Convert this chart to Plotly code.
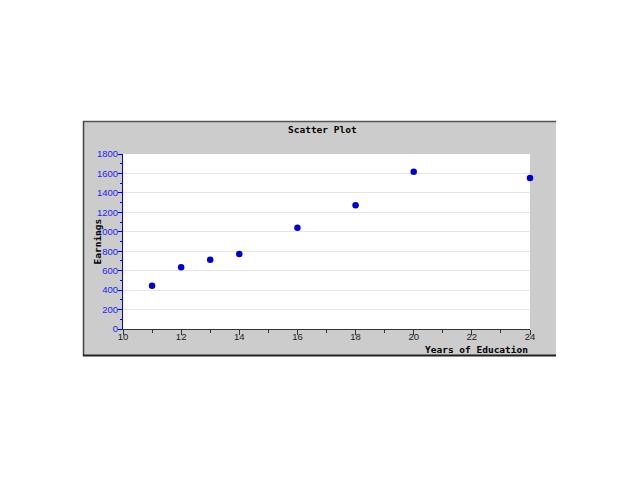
import plotly.graph_objects as go

# data
years = [11, 12, 13, 14, 16, 18, 20, 24]
earnings = [445, 635, 713, 771, 1042, 1273, 1617, 1553]

x_ticks = [10, 12, 14, 16, 18, 20, 22, 24]
y_ticks = [0, 200, 400, 600, 800, 1000, 1200, 1400, 1600, 1800]

# page body has an 8px margin, so the figure sits at (8, 8)
OFF = 8
W, H = 638 - 2 * OFF, 478 - 2 * OFF
# plot area in page pixels
L, R, T, B = 123, 530, 154, 329
pw, ph = R - L, B - T


def px(x):
    return (x - L) / pw


def py(y):
    return (B - y) / ph


mono = "DejaVu Sans Mono"
sans = "Liberation Sans"

fig = go.Figure()
fig.add_trace(go.Scatter(
    x=years, y=earnings, mode="markers",
    marker=dict(color="#0000cc", size=6.5),
    cliponaxis=False, showlegend=False,
))

shapes = [
    dict(type="rect", xref="paper", yref="paper", layer="below",
         x0=px(83), x1=px(556), y0=py(356), y1=py(121),
         fillcolor="#cccccc", line=dict(width=0)),
    dict(type="rect", xref="paper", yref="paper", layer="below",
         x0=0, x1=1, y0=0, y1=1,
         fillcolor="white", line=dict(width=0)),
    dict(type="line", xref="paper", yref="paper", layer="below",
         x0=px(83), x1=px(556), y0=py(121.5), y1=py(121.5),
         line=dict(color="#555555", width=1.5)),
    dict(type="line", xref="paper", yref="paper", layer="below",
         x0=px(83.5), x1=px(83.5), y0=py(356), y1=py(121),
         line=dict(color="#444444", width=1.5)),
    dict(type="line", xref="paper", yref="paper", layer="below",
         x0=px(83), x1=px(556), y0=py(355.5), y1=py(355.5),
         line=dict(color="#222222", width=2)),
]

fig.update_layout(
    width=W, height=H,
    margin=dict(l=L - OFF, r=W - (R - OFF), t=T - OFF, b=H - (B - OFF)),
    paper_bgcolor="white",
    plot_bgcolor="white",
    shapes=shapes,
    annotations=[
        dict(text="<b>Scatter Plot</b>", xref="paper", yref="paper",
             x=px(322), y=py(130), xanchor="center", yanchor="middle",
             showarrow=False, font=dict(family=mono, size=9.5, color="black")),
        dict(text="<b>Years of Education</b>", xref="paper", yref="paper",
             x=px(530), y=py(349), xanchor="right", yanchor="middle",
             showarrow=False, font=dict(family=mono, size=9.5, color="black")),
        dict(text="<b>Earnings</b>", xref="paper", yref="paper",
             x=px(97), y=0.5, xanchor="center", yanchor="middle", textangle=-90,
             showarrow=False, font=dict(family=mono, size=9.5, color="black")),
    ],
    xaxis=dict(
        range=[10, 24], tickvals=x_ticks, showgrid=False, zeroline=False,
        showline=True, linecolor="#333333", linewidth=1,
        ticks="outside", ticklen=5, tickcolor="#333333",
        minor=dict(ticks="outside", ticklen=3, dtick=1, tickcolor="#333333"),
        tickfont=dict(family=sans, size=9.5, color="#222222"),
        ticklabelstandoff=-6,
    ),
    yaxis=dict(
        range=[0, 1800], tickvals=y_ticks, showgrid=True, gridcolor="#e6e6e6",
        zeroline=False, showline=True, linecolor="#0000ee", linewidth=1,
        ticks="outside", ticklen=4, tickcolor="#0000ee",
        minor=dict(ticks="outside", ticklen=2, dtick=100, tickcolor="#0000ee"),
        tickfont=dict(family=sans, size=9.5, color="#2222ee"),
        ticklabelstandoff=-2,
    ),
)

fig.write_html("out.html")
